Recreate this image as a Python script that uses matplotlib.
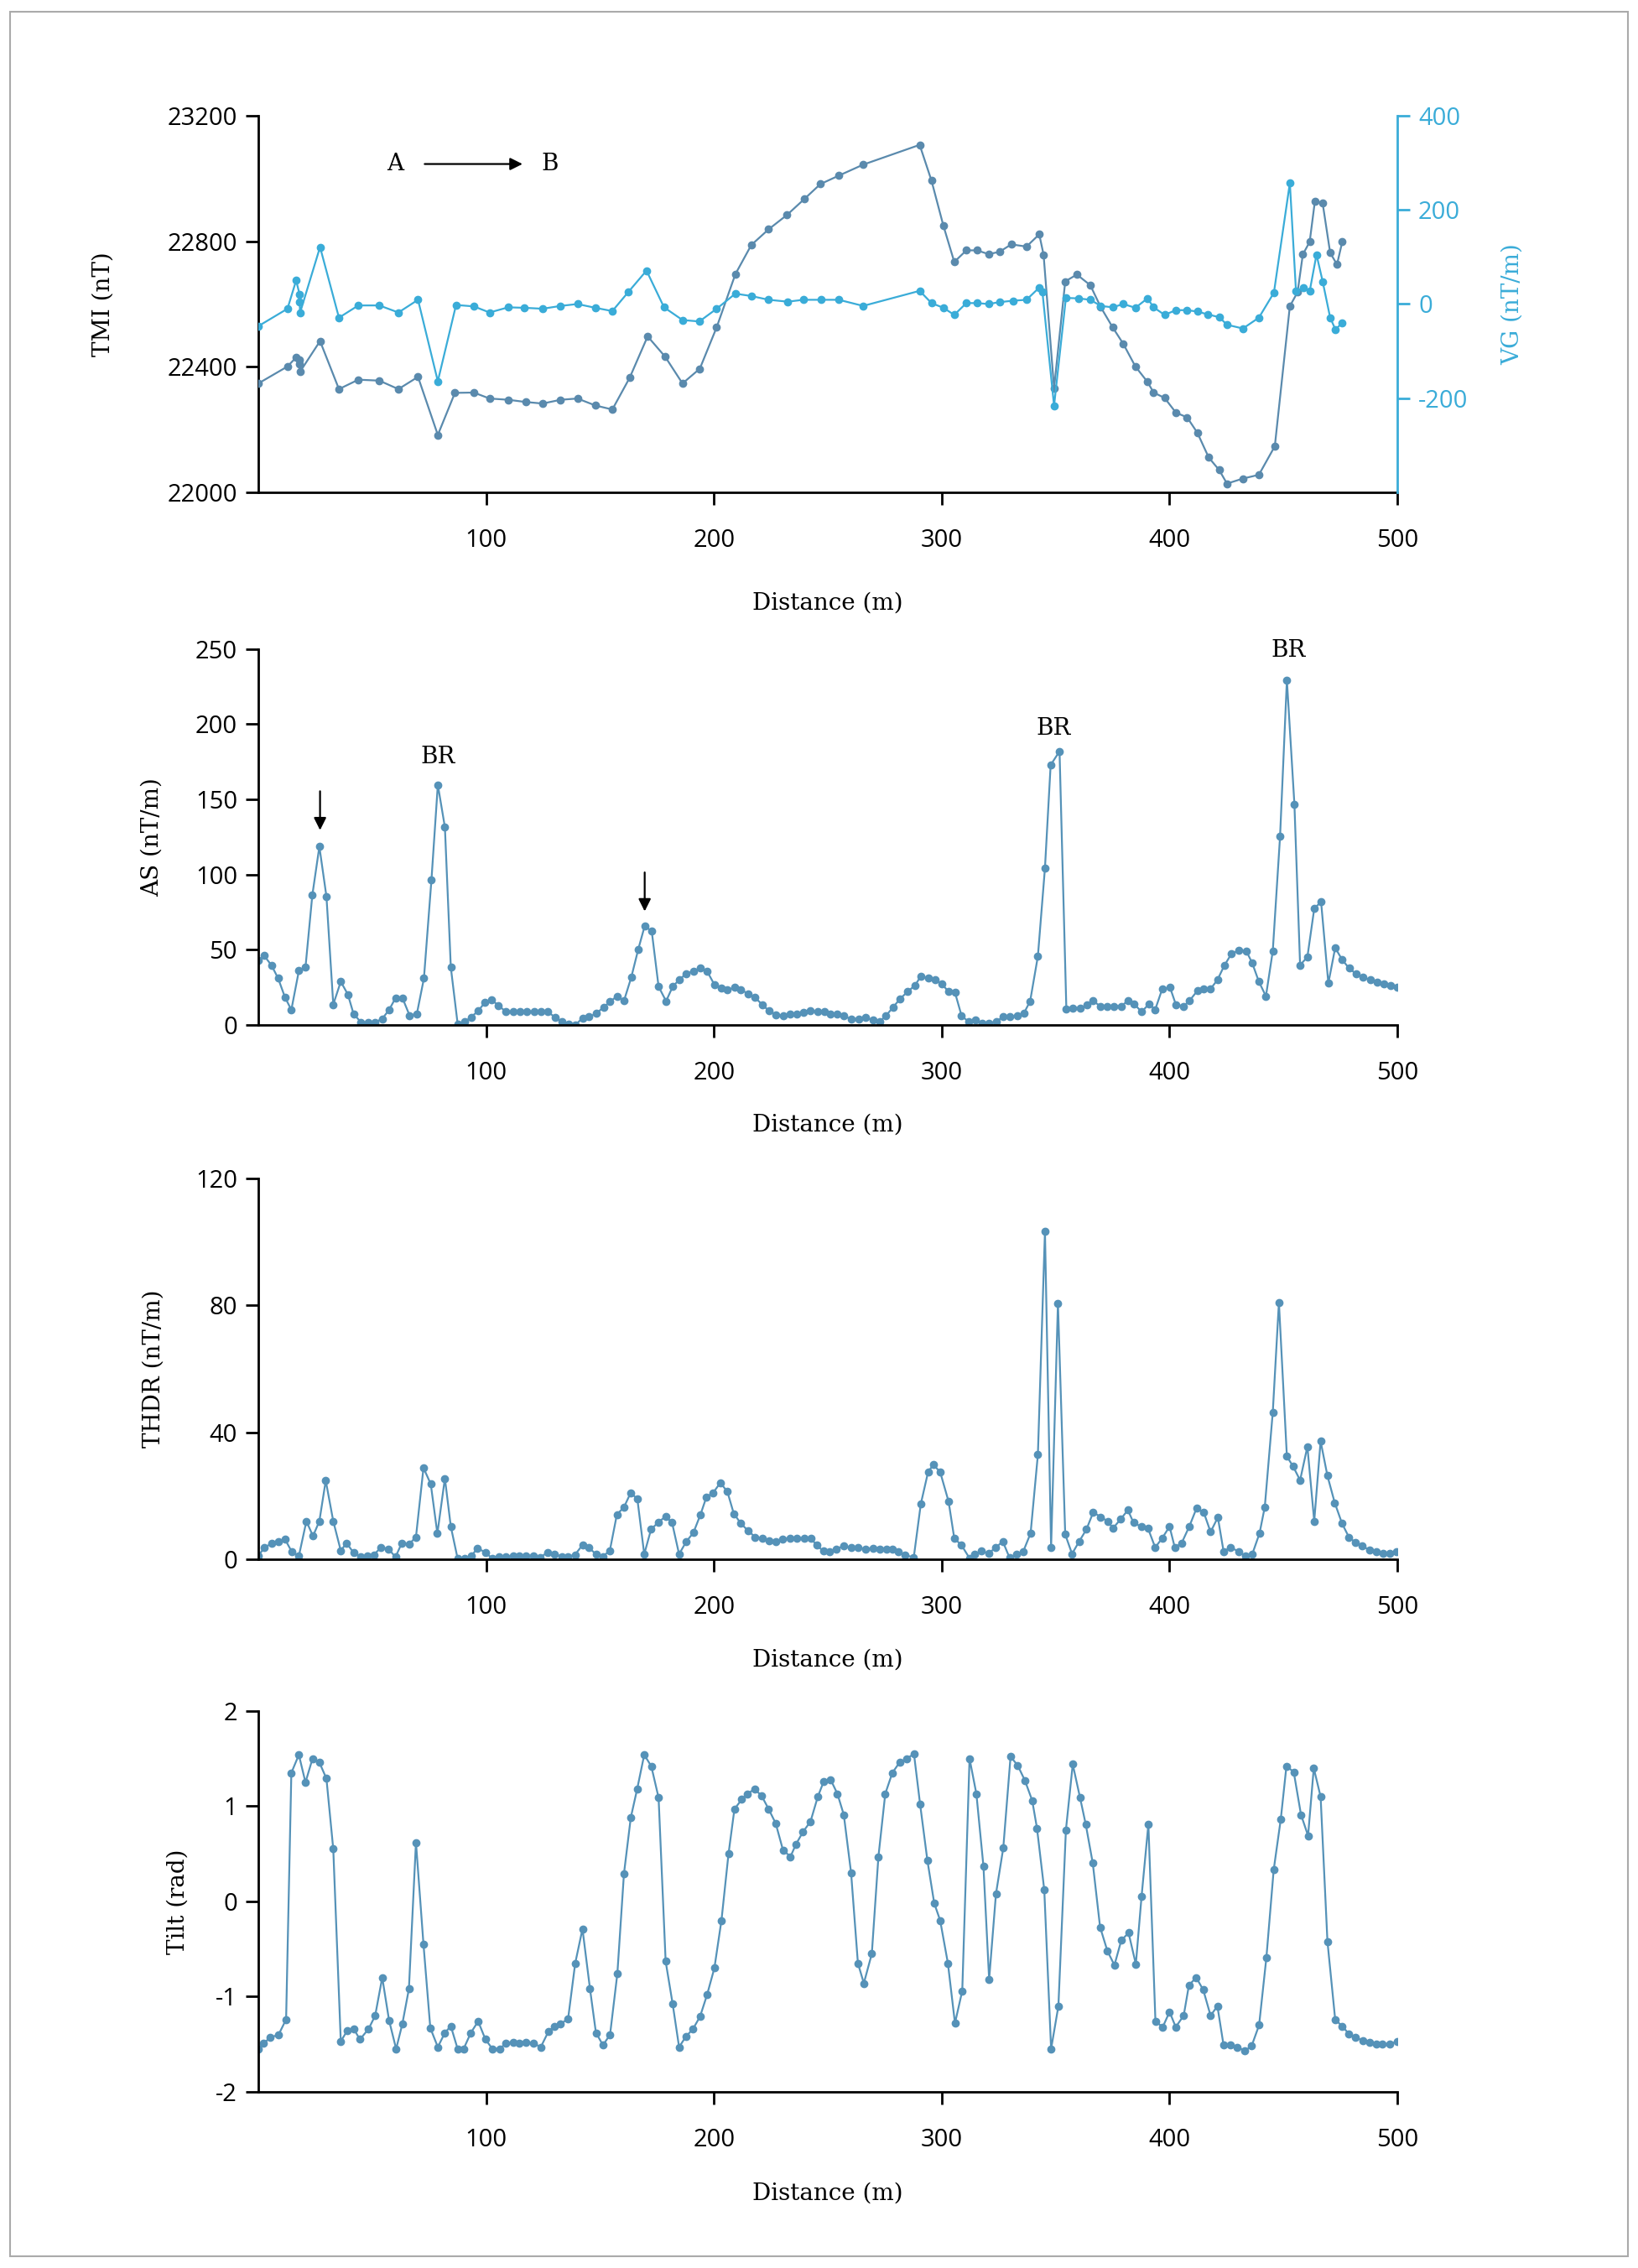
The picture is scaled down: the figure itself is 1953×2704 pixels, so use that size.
import matplotlib
matplotlib.use("Agg")
import matplotlib.pyplot as plt
from matplotlib.patches import Rectangle

plt.rcParams['axes.unicode_minus'] = False

# ---- data ----
dist_tmi = [0, 12.8, 16.6, 18.1, 18.2, 18.3, 27.1, 35.4, 43.9, 53.1, 61.5, 70.1, 78.8, 86.3, 94.6,
            101.5, 109.7, 117.3, 124.8, 132.7, 140.1, 147.9, 155.4, 163.0, 170.9, 178.6, 186.2,
            193.8, 201.2, 209.4, 216.4, 224.0, 232.1, 239.6, 246.7, 254.8, 265.5, 290.3, 295.5,
            300.7, 305.5, 310.8, 315.5, 320.5, 325.3, 330.5, 337.2, 342.8, 344.7, 349.3, 354.2,
            359.3, 365.2, 369.8, 375.0, 379.7, 385.0, 390.3, 393.0, 397.8, 402.8, 407.7, 412.2,
            417.2, 421.8, 425.2, 432.2, 439.2, 446.2, 452.8, 456.2, 458.5, 461.5, 463.8, 467.2,
            470.5, 473.5, 475.8]
tmi = [22347, 22401, 22430, 22421, 22410, 22384, 22482, 22329, 22359, 22356, 22329, 22368, 22183,
       22317, 22318, 22299, 22295, 22288, 22283, 22295, 22299, 22277, 22264, 22365, 22497, 22432,
       22347, 22394, 22526, 22695, 22788, 22838, 22884, 22934, 22982, 23009, 23044, 23107, 22993,
       22850, 22734, 22771, 22771, 22759, 22766, 22790, 22783, 22822, 22757, 22332, 22672, 22694,
       22660, 22590, 22526, 22473, 22401, 22352, 22318, 22301, 22254, 22239, 22190, 22111, 22071,
       22028, 22044, 22056, 22147, 22593, 22638, 22758, 22798, 22928, 22921, 22763, 22726, 22798]

dist_vg = [0, 12.8, 16.6, 18.1, 18.2, 18.3, 27.1, 35.4, 43.9, 53.1, 61.5, 70.1, 78.8, 86.8, 94.6,
           101.5, 109.7, 116.8, 124.8, 132.7, 140.1, 147.9, 155.4, 162.5, 170.4, 178.1, 186.2,
           193.6, 201.2, 209.4, 216.4, 224.0, 232.4, 239.3, 247.2, 254.8, 265.5, 290.3, 295.5,
           300.7, 305.5, 310.8, 315.5, 320.5, 325.3, 331.2, 337.2, 342.8, 344.2, 349.3, 354.5,
           360.0, 365.2, 369.8, 375.0, 379.7, 385.0, 390.3, 393.0, 397.8, 402.8, 407.7, 412.2,
           416.8, 421.8, 425.2, 432.2, 439.2, 445.8, 452.8, 455.5, 458.8, 461.5, 464.5, 467.2,
           470.5, 472.8, 475.8]
vg = [-47, -10, 50, 21, 5, -19, 121, -29, -3, -3, -18, 9, -164, -2, -5, -18, -7, -8, -10, -4, 0,
      -8, -15, 26, 71, -7, -34, -37, -10, 22, 17, 9, 5, 9, 9, 9, -4, 28, 2, -8, -23, 2, 2, 0, 4,
      7, 9, 35, 25, -216, 13, 12, 9, -4, -7, 0, -8, 12, -7, -23, -13, -13, -16, -22, -28, -44,
      -52, -29, 24, 257, 27, 35, 27, 105, 48, -29, -54, -40]

dist_as = [0, 2.6, 5.8, 8.7, 11.7, 14.5, 17.8, 20.7, 23.7, 26.8, 29.9, 32.9, 36.2, 39.3, 41.8,
           45.1, 48.2, 51.2, 54.4, 57.4, 60.2, 63.3, 66.4, 69.6, 72.7, 76.0, 78.8, 81.9, 84.5,
           87.5, 90.6, 93.4, 96.5, 99.5, 102.3, 105.4, 108.7, 111.8, 114.8, 117.9, 121.0, 124.2,
           127.1, 130.3, 133.2, 136.2, 139.3, 142.3, 145.2, 148.4, 151.6, 154.4, 157.4, 160.5,
           163.7, 166.8, 169.6, 172.7, 175.7, 179.0, 181.9, 184.9, 187.8, 191.0, 194.1, 197.0,
           200.2, 203.1, 205.9, 209.0, 211.8, 215.0, 218.1, 221.1, 224.2, 227.3, 230.3, 233.4,
           236.3, 239.3, 242.4, 245.6, 248.5, 251.0, 254.0, 257.0, 260.3, 263.5, 266.5, 269.7,
           272.7, 275.5, 278.7, 281.8, 285.0, 288.2, 290.8, 294.0, 297.2, 300.0, 303.0, 305.8,
           308.7, 311.7, 314.7, 317.8, 320.8, 323.8, 327.0, 330.0, 333.2, 336.0, 338.8, 342.2,
           345.3, 347.8, 351.7, 354.7, 357.5, 360.7, 363.7, 366.3, 369.5, 372.7, 375.7, 378.8,
           381.8, 384.5, 387.7, 391.0, 393.7, 396.8, 400.2, 402.8, 406.2, 408.8, 412.2, 414.8,
           418.0, 421.0, 424.0, 427.2, 430.5, 433.7, 436.3, 439.2, 442.3, 445.3, 448.5, 451.5,
           454.8, 457.3, 460.5, 463.5, 466.5, 469.7, 472.7, 475.7, 478.8, 481.8, 485.0, 488.0,
           491.0, 494.0, 497.2, 500.0]
as_vals = [42.8, 46, 39.6, 31, 18.4, 10, 36, 38.3, 86.2, 118.6, 85.5, 13.6, 28.8, 20.3, 7.4, 1.7,
           1.7, 1.7, 4.1, 10, 17.8, 17.8, 6.3, 7.4, 31, 96.5, 159.7, 131.6, 38.3, 0.7, 2, 5.2, 9.3,
           15, 16.7, 13, 8.7, 8.7, 8.7, 8.7, 8.7, 8.7, 8.7, 5, 2.4, 0.7, 0.2, 4.5, 5.4, 7.6, 11.9,
           15.4, 19.1, 16, 31.6, 50.4, 65.8, 62.3, 25.5, 15.8, 25.5, 30.3, 34, 35.9, 37.9, 35.7,
           26.8, 24.3, 23.2, 24.9, 23.4, 20.8, 18.2, 13.6, 9.3, 6.9, 6.1, 7.1, 7.1, 8.4, 9.5, 8.7,
           8.7, 7.2, 7.1, 6.1, 3.7, 3.7, 5, 3.2, 2.2, 6.1, 11.9, 17.5, 22.1, 26.2, 32.3, 31, 29.9,
           27.3, 22.1, 21.6, 6.1, 2.2, 3.5, 1.3, 1.3, 2.2, 5.4, 5.4, 6.1, 7.6, 15.8, 45.7, 104.3,
           172.9, 182, 10.4, 11.2, 11.2, 13.2, 16.2, 12.5, 12.5, 12.5, 12.5, 16.2, 13.9, 8.7, 13.9,
           10.2, 24, 24.9, 13.4, 12.5, 16.2, 22.7, 24, 24, 29.9, 39.4, 47.4, 49.6, 49.1, 41.1,
           28.8, 19.1, 49.1, 125.3, 229.4, 146.8, 39.8, 45.2, 77.3, 82, 27.7, 51.3, 43.5, 37.7,
           34, 31.8, 29.9, 28.4, 27.3, 26.2, 25.1]

dist_thdr = [0, 2.6, 5.8, 8.7, 11.7, 14.6, 17.8, 21.1, 24.0, 26.8, 29.6, 32.9, 36.2, 38.7, 41.8,
             45.1, 47.7, 50.7, 53.8, 57.1, 60.2, 63.0, 66.1, 69.2, 72.5, 75.7, 78.6, 81.9, 84.5,
             87.5, 90.6, 93.6, 96.2, 99.8, 102.6, 105.8, 108.7, 111.8, 114.6, 117.6, 120.7,
             123.7, 127.1, 130.1, 133.2, 136.0, 139.0, 142.3, 145.2, 148.2, 151.2, 154.3, 157.4,
             160.5, 163.5, 166.4, 169.4, 172.4, 175.5, 178.8, 181.6, 184.7, 187.8, 191.0, 194.1,
             196.7, 199.7, 202.8, 205.9, 208.7, 211.8, 215.1, 218.1, 221.2, 224.2, 227.1, 230.1,
             233.4, 236.5, 239.6, 242.6, 245.1, 248.0, 250.7, 253.8, 257.0, 260.2, 263.2, 266.5,
             269.7, 272.8, 275.7, 278.3, 281.0, 284.0, 287.7, 290.8, 294.0, 296.3, 299.3, 303.0,
             305.5, 308.7, 312.3, 314.5, 317.3, 320.5, 323.7, 326.8, 329.8, 333.0, 335.8, 339.0,
             342.2, 345.3, 348.0, 351.0, 354.2, 357.2, 360.3, 363.5, 366.5, 369.8, 372.8, 375.2,
             378.5, 381.7, 384.2, 387.5, 390.5, 393.7, 396.8, 400.0, 402.3, 405.3, 408.7, 411.8,
             415.0, 418.0, 421.2, 423.7, 426.8, 430.2, 433.2, 436.3, 439.5, 441.8, 445.3, 448.0,
             451.5, 454.2, 457.3, 460.5, 463.5, 466.3, 469.3, 472.5, 475.7, 478.7, 481.7, 484.5,
             487.7, 490.8, 493.7, 496.5, 499.7]
thdr = [1.1, 3.6, 5, 5.5, 6.3, 2.5, 1, 12, 7.3, 12, 24.8, 12, 2.7, 5.1, 2.1, 0.7, 1.1, 1.4, 3.7,
        3.3, 0.7, 5.1, 4.7, 7, 28.8, 23.7, 8.1, 25.5, 10.3, 0.2, 0.2, 1.1, 3.5, 2.1, 0.3, 0.7, 0.9,
        1.1, 1.1, 1.1, 1.1, 0.6, 2.2, 1.6, 0.9, 0.9, 1.4, 4.5, 3.6, 1.6, 0.9, 2.7, 14.1, 16.4, 21,
        18.9, 1.6, 9.4, 11.6, 13.5, 11.6, 1.6, 5.5, 8.4, 14.1, 19.6, 21, 24.1, 21.3, 14.4, 11.3,
        8.9, 7, 6.5, 5.9, 5.6, 6.4, 6.6, 6.6, 6.6, 6.6, 4.4, 2.6, 2.5, 3.3, 4.2, 3.6, 3.6, 3.3,
        3.5, 3.3, 3.3, 3.3, 2.3, 1.4, 0.5, 17.4, 27.5, 29.8, 27.5, 18.2, 6.6, 4.4, 0.2, 1.5, 2.7,
        1.8, 3.7, 5.6, 0.4, 1.6, 2.5, 8.2, 33, 103.3, 3.7, 80.7, 7.8, 1.7, 5.6, 9.4, 14.8, 13.3,
        12, 9.8, 12.6, 15.5, 11.5, 10.3, 9.8, 3.7, 6.7, 10.3, 3.7, 5.1, 10.4, 16, 14.8, 8.6, 13.2,
        2.5, 3.7, 2.5, 1.1, 1.6, 8.2, 16.5, 46.3, 80.9, 32.4, 29.3, 24.9, 35.5, 12, 37.2, 26.3,
        17.8, 11.3, 7, 5.2, 4.1, 3, 2.3, 1.8, 1.8, 2.5]

dist_tilt = [0, 2.3, 5.3, 8.9, 12.2, 14.5, 17.8, 20.7, 23.8, 26.8, 29.9, 32.9, 36.2, 39.0, 41.9,
             44.6, 48.4, 51.3, 54.4, 57.4, 60.5, 63.2, 66.1, 69.2, 72.5, 75.5, 78.8, 81.9, 84.5,
             87.5, 90.1, 93.3, 96.5, 99.7, 102.8, 105.9, 108.7, 111.8, 114.5, 117.6, 120.7,
             124.0, 127.3, 129.9, 132.7, 136.0, 139.1, 142.3, 145.6, 148.2, 151.3, 154.4, 157.6,
             160.5, 163.5, 166.3, 169.4, 172.5, 175.7, 178.8, 181.9, 184.7, 187.7, 190.8, 193.9,
             197.0, 200.2, 203.3, 206.4, 209.0, 212.2, 214.8, 217.8, 220.9, 224.0, 227.1, 230.3,
             233.6, 236.0, 239.1, 242.4, 245.6, 248.2, 251.2, 254.2, 257.0, 260.2, 263.2, 265.8,
             269.3, 272.2, 275.2, 278.3, 281.5, 284.7, 287.8, 290.5, 293.7, 296.7, 299.3, 302.7,
             305.8, 309.0, 312.2, 315.2, 318.3, 320.8, 323.8, 327.0, 330.2, 333.3, 336.5, 339.7,
             341.8, 345.0, 348.0, 351.2, 354.5, 357.5, 360.7, 363.2, 366.3, 369.5, 372.7, 375.8,
             378.8, 382.0, 385.2, 387.7, 390.7, 393.8, 397.0, 400.0, 402.7, 406.2, 408.5, 411.7,
             414.8, 418.0, 421.0, 423.7, 426.8, 429.8, 433.0, 436.0, 439.3, 442.5, 445.7, 448.8,
             451.3, 454.5, 457.7, 460.8, 463.3, 466.3, 469.3, 472.7, 475.7, 478.7, 481.7, 484.7,
             487.7, 490.8, 493.5, 496.5, 500.0]
tilt = [-1.55, -1.49, -1.43, -1.40, -1.24, 1.35, 1.54, 1.25, 1.50, 1.46, 1.29, 0.55, -1.47, -1.36,
        -1.34, -1.45, -1.34, -1.20, -0.80, -1.25, -1.55, -1.29, -0.92, 0.62, -0.45, -1.33, -1.53,
        -1.38, -1.31, -1.55, -1.55, -1.38, -1.26, -1.45, -1.55, -1.55, -1.49, -1.48, -1.49, -1.48,
        -1.49, -1.53, -1.37, -1.31, -1.29, -1.23, -0.65, -0.29, -0.92, -1.38, -1.51, -1.40, -0.76,
        0.29, 0.88, 1.18, 1.54, 1.42, 1.09, -0.63, -1.08, -1.53, -1.42, -1.34, -1.21, -0.98, -0.70,
        -0.20, 0.50, 0.97, 1.07, 1.13, 1.18, 1.11, 0.97, 0.82, 0.54, 0.47, 0.60, 0.73, 0.84, 1.10,
        1.26, 1.28, 1.13, 0.91, 0.30, -0.65, -0.86, -0.55, 0.47, 1.13, 1.35, 1.46, 1.50, 1.55,
        1.02, 0.43, -0.02, -0.20, -0.65, -1.28, -0.94, 1.50, 1.13, 0.37, -0.82, 0.08, 0.56, 1.52,
        1.43, 1.27, 1.06, 0.77, 0.12, -1.55, -1.10, 0.75, 1.44, 1.09, 0.81, 0.40, -0.27, -0.52,
        -0.67, -0.41, -0.33, -0.66, 0.05, 0.81, -1.26, -1.32, -1.16, -1.32, -1.20, -0.88, -0.80,
        -0.93, -1.20, -1.10, -1.51, -1.51, -1.53, -1.57, -1.52, -1.30, -0.59, 0.33, 0.86, 1.42,
        1.36, 0.91, 0.69, 1.40, 1.10, -0.42, -1.24, -1.31, -1.39, -1.43, -1.46, -1.48, -1.50,
        -1.50, -1.50, -1.47]

x_ticks = [100, 200, 300, 400, 500]

dark_blue = '#5a8aad'
light_blue = '#3aacd8'
line_blue = '#5592b8'
tick_font = 'Open Sans'
label_font = 'DejaVu Serif'

fig = plt.figure(figsize=(19.53, 27.04), dpi=100)

# thin grey frame round the whole figure
fig.patches.append(Rectangle((0.006, 0.005), 0.988, 0.99, transform=fig.transFigure,
                             fill=False, edgecolor='#aaaaaa', linewidth=1.5))


def style_axis(ax, ylabel, ylabel_x, xlabel_y):
    ax.set_xlim(0, 500)
    ax.set_xticks(x_ticks)
    for s in ['top', 'right']:
        ax.spines[s].set_visible(False)
    for s in ['left', 'bottom']:
        ax.spines[s].set_linewidth(2)
    ax.tick_params(axis='x', length=11, width=2, pad=20, labelsize=21)
    ax.tick_params(axis='y', length=11, width=2, pad=7, labelsize=21)
    for lab in ax.get_xticklabels() + ax.get_yticklabels():
        lab.set_fontfamily(tick_font)
    ax.set_xlabel('Distance (m)', fontsize=20, fontfamily=label_font, va='center')
    ax.xaxis.set_label_coords(0.5, xlabel_y)
    ax.set_ylabel(ylabel, fontsize=20, fontfamily=label_font, va='center')
    ax.yaxis.set_label_coords(ylabel_x, 0.5)


left, width = 0.1577, 0.6954
mk = dict(lw=1.6, marker='o', ms=6)

# ---- panel 1: TMI and VG ----
ax1 = fig.add_axes([left, 0.7829, width, 0.1661])
ax1.plot(dist_tmi, tmi, color=dark_blue, zorder=3, **mk)
ax1.set_ylim(22000, 23200)
ax1.set_yticks([22000, 22400, 22800, 23200])
style_axis(ax1, 'TMI (nT)', -0.136, -0.294)

ax1b = ax1.twinx()
ax1b.plot(dist_vg, vg, color=light_blue, zorder=2, **mk)
ax1b.set_ylim(-400, 400)
ax1b.set_yticks([-200, 0, 200, 400])
ax1b.set_xlim(0, 500)
for s in ['top', 'left', 'bottom']:
    ax1b.spines[s].set_visible(False)
ax1b.spines['right'].set_color(light_blue)
ax1b.spines['right'].set_linewidth(2)
ax1b.tick_params(axis='y', colors=light_blue, length=11, width=2, pad=7, labelsize=21)
for lab in ax1b.get_yticklabels():
    lab.set_fontfamily(tick_font)
ax1b.set_ylabel('VG (nT/m)', fontsize=20, fontfamily=label_font, color=light_blue, va='center')
ax1b.yaxis.set_label_coords(1.101, 0.5)

ax1.text(60, 23046, 'A', fontsize=20, fontfamily=label_font, ha='center', va='center')
ax1.text(128, 23046, 'B', fontsize=20, fontfamily=label_font, ha='center', va='center')
ax1.annotate('', xy=(117, 23046), xytext=(72, 23046),
             arrowprops=dict(arrowstyle='-|>', color='black', lw=1.6, mutation_scale=22))

# ---- panel 2: AS ----
ax2 = fig.add_axes([left, 0.5481, width, 0.1657])
ax2.plot(dist_as, as_vals, color=line_blue, **mk)
ax2.set_ylim(0, 250)
ax2.set_yticks([0, 50, 100, 150, 200, 250])
style_axis(ax2, 'AS (nT/m)', -0.0935, -0.266)
for bx, by in [(79, 178), (349, 197), (452, 249)]:
    ax2.text(bx, by, 'BR', fontsize=20, fontfamily=label_font, ha='center', va='center')
for ax_x, y0, y1 in [(27.1, 157, 128), (169.6, 103, 74)]:
    ax2.annotate('', xy=(ax_x, y1), xytext=(ax_x, y0),
                 arrowprops=dict(arrowstyle='-|>', color='black', lw=1.6, mutation_scale=22))

# ---- panel 3: THDR ----
ax3 = fig.add_axes([left, 0.3125, width, 0.1679])
ax3.plot(dist_thdr, thdr, color=line_blue, **mk)
ax3.set_ylim(0, 120)
ax3.set_yticks([0, 40, 80, 120])
style_axis(ax3, 'THDR (nT/m)', -0.092, -0.264)

# ---- panel 4: Tilt ----
ax4 = fig.add_axes([left, 0.0777, width, 0.1679])
ax4.plot(dist_tilt, tilt, color=line_blue, **mk)
ax4.set_ylim(-2, 2)
ax4.set_yticks([-2, -1, 0, 1, 2])
style_axis(ax4, 'Tilt (rad)', -0.0707, -0.266)

fig.savefig('out.png', dpi=100)
